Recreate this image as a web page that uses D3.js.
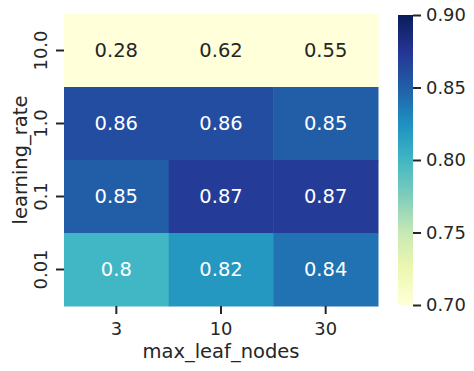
<!DOCTYPE html>
<html><head><meta charset="utf-8">
<script src="https://cdn.jsdelivr.net/npm/d3@7"></script>
<style>body{margin:0;background:#fff;} text{font-family:"DejaVu Sans",sans-serif;}</style>
</head><body>
<svg id="chart" width="474" height="371"></svg>
<script>
const columns = ["3", "10", "30"];
const rows = ["10.0", "1.0", "0.1", "0.01"];
const values = [
  [0.28, 0.62, 0.55],
  [0.86, 0.86, 0.85],
  [0.85, 0.87, 0.87],
  [0.80, 0.82, 0.84]
];
const colorTicks = [0.70, 0.75, 0.80, 0.85, 0.90];
const xTitle = "max_leaf_nodes";
const yTitle = "learning_rate";
const ylgnbu = ["#ffffd9","#edf8b1","#c7e9b4","#7fcdbb","#41b6c4","#1d91c0","#225ea8","#253494","#081d58"];

const vmin = 0.70, vmax = 0.90;
const svg = d3.select("#chart");
const ink = "#262626";
const pL = 64, pR = 378, pT = 14, pB = 306;
const annotSize = "19.5px", tickSize = "17.9px", labelSize = "19.5px";

const x = d3.scaleBand().domain(columns).range([pL, pR]).padding(0);
const y = d3.scaleBand().domain(rows).range([pT, pB]).padding(0);
const color = d3.scaleLinear()
  .domain(d3.range(ylgnbu.length).map(i => vmin + (vmax - vmin) * i / (ylgnbu.length - 1)))
  .range(ylgnbu).interpolate(d3.interpolateRgb).clamp(true);

function lum(c) {
  const rgb = d3.rgb(c);
  const f = v => { v /= 255; return v <= 0.03928 ? v / 12.92 : Math.pow((v + 0.055) / 1.055, 2.4); };
  return 0.2126 * f(rgb.r) + 0.7152 * f(rgb.g) + 0.0722 * f(rgb.b);
}

const cells = [];
rows.forEach((r, i) => columns.forEach((c, j) => cells.push({r, c, v: values[i][j]})));
const fmt = d3.format(".2~g");

svg.append("g").selectAll("rect").data(cells).join("rect")
  .attr("x", d => x(d.c)).attr("y", d => y(d.r))
  .attr("width", x.bandwidth() + 0.5).attr("height", y.bandwidth() + 0.5)
  .attr("fill", d => color(d.v));

svg.append("g").selectAll("text").data(cells).join("text")
  .attr("x", d => x(d.c) + x.bandwidth() / 2)
  .attr("y", d => y(d.r) + y.bandwidth() / 2)
  .attr("text-anchor", "middle").attr("dominant-baseline", "central")
  .attr("font-size", annotSize)
  .attr("fill", d => lum(color(d.v)) > 0.408 ? ink : "#ffffff")
  .text(d => fmt(d.v));

// x axis
const xAxis = svg.append("g").attr("transform", `translate(0,${pB})`)
  .call(d3.axisBottom(x).tickSize(8).tickPadding(4));
xAxis.select(".domain").remove();
xAxis.selectAll(".tick line").attr("stroke", ink).attr("stroke-width", 2);
xAxis.selectAll(".tick text").attr("font-size", tickSize).attr("fill", ink)
  .attr("font-family", "DejaVu Sans").attr("y", 29).attr("dy", null);

// y axis
const yAxis = svg.append("g").attr("transform", `translate(${pL},0)`)
  .call(d3.axisLeft(y).tickSize(8).tickPadding(0));
yAxis.select(".domain").remove();
yAxis.selectAll(".tick line").attr("stroke", ink).attr("stroke-width", 2);
yAxis.selectAll(".tick text").attr("font-size", tickSize).attr("fill", ink)
  .attr("font-family", "DejaVu Sans")
  .attr("x", null).attr("dy", null)
  .attr("text-anchor", "middle")
  .attr("transform", "translate(-17,0) rotate(-90)");

svg.append("text").attr("x", (pL + pR) / 2).attr("y", 358)
  .attr("text-anchor", "middle").attr("font-size", labelSize).attr("fill", ink)
  .text(xTitle);
svg.append("text").attr("transform", `translate(27,${(pT + pB) / 2}) rotate(-90)`)
  .attr("text-anchor", "middle").attr("font-size", labelSize).attr("fill", ink)
  .text(yTitle);

// colorbar
const cbX = 398, cbW = 15, cbTop = 15, cbBottom = 305;
const cy = d3.scaleLinear().domain([vmin, vmax]).range([cbBottom, cbTop]);
const defs = svg.append("defs");
const grad = defs.append("linearGradient").attr("id", "cbgrad")
  .attr("x1", 0).attr("y1", 1).attr("x2", 0).attr("y2", 0);
ylgnbu.forEach((c, i) => grad.append("stop")
  .attr("offset", i / (ylgnbu.length - 1)).attr("stop-color", c));
svg.append("rect").attr("x", cbX).attr("y", cbTop).attr("width", cbW)
  .attr("height", cbBottom - cbTop).attr("fill", "url(#cbgrad)");
const cAxis = svg.append("g").attr("transform", `translate(${cbX + cbW},0)`)
  .call(d3.axisRight(cy).tickValues(colorTicks).tickFormat(d3.format(".2f")).tickSize(8).tickPadding(5));
cAxis.select(".domain").remove();
cAxis.selectAll(".tick line").attr("stroke", ink).attr("stroke-width", 2);
cAxis.selectAll(".tick text").attr("font-size", tickSize).attr("fill", ink)
  .attr("font-family", "DejaVu Sans");
</script>
</body></html>
